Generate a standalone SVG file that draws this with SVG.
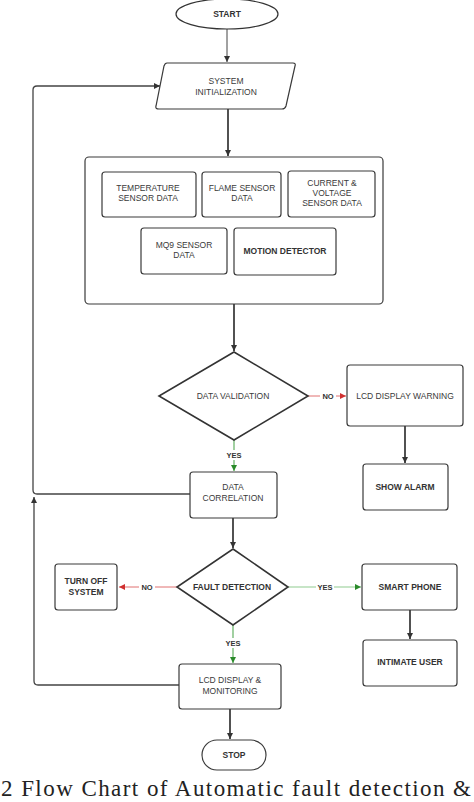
<svg xmlns="http://www.w3.org/2000/svg" width="474" height="802" viewBox="0 0 474 802">
<style>
.n{fill:#fff;stroke:#3a3a3a;stroke-width:1.2}
.d{fill:#fff;stroke:#333;stroke-width:1.6}
.t{font-family:"Liberation Sans",Arial,sans-serif;font-size:8.5px;fill:#3a3a3a;text-anchor:middle;dominant-baseline:central}
.b{font-weight:bold;fill:#333}
.c{fill:none;stroke:#444;stroke-width:1.3}
.k{stroke-width:1.7;stroke:#333}
.r{fill:none;stroke:#e07070;stroke-width:1}
.g{fill:none;stroke:#55aa55;stroke-width:1.1}
.lb{fill:#fff;stroke:none}
.cap{font-family:"Liberation Serif","Times New Roman",serif;font-size:23px;fill:#222}
</style>
<defs>
<marker id="a" markerWidth="6" markerHeight="6" refX="6" refY="3" orient="auto" markerUnits="userSpaceOnUse"><path d="M0,0 L6,3 L0,6 z" fill="#333"/></marker>
<marker id="ar" markerWidth="6" markerHeight="6" refX="6" refY="3" orient="auto" markerUnits="userSpaceOnUse"><path d="M0,0 L6,3 L0,6 z" fill="#d03030"/></marker>
<marker id="ag" markerWidth="6" markerHeight="6" refX="6" refY="3" orient="auto" markerUnits="userSpaceOnUse"><path d="M0,0 L6,3 L0,6 z" fill="#2a8a2a"/></marker>
</defs>
<rect width="474" height="802" fill="#fff"/>

<g id="connectors">
<path class="c" d="M227,29 V62" marker-end="url(#a)" style="stroke-width:1"/>
<path class="c k" d="M228,109 V156" marker-end="url(#a)"/>
<path class="c k" d="M234,304 V351" marker-end="url(#a)"/>
<path class="r" d="M308,396 H346" marker-end="url(#ar)"/>
<path class="c k" d="M405,426 V463" marker-end="url(#a)"/>
<path class="g" d="M234,440 V471" marker-end="url(#ag)"/>
<path class="c k" d="M233,518 V548" marker-end="url(#a)"/>
<path class="r" d="M177,587 H119" marker-end="url(#ar)"/>
<path class="g" d="M288,587 H361" marker-end="url(#ag)" style="stroke:#8fcc8f"/>
<path class="c k" d="M410,610 V639" marker-end="url(#a)"/>
<path class="g" d="M233,625 V663" marker-end="url(#ag)"/>
<path class="c k" d="M230,709 V739" marker-end="url(#a)"/>
<path class="c" d="M190,494 H37 Q33,494 33,490 V90 Q33,86 37,86 H160" marker-end="url(#a)"/>
<path class="c" d="M179,685 H38 Q34,685 34,681 V497" marker-end="url(#a)"/>
<rect class="lb" x="320" y="391" width="16" height="10"/>
<text class="t b" x="328" y="396" style="font-size:7.5px">NO</text>
<rect class="lb" x="225" y="450" width="18" height="10"/>
<text class="t b" x="234" y="455" style="font-size:7.5px">YES</text>
<rect class="lb" x="139" y="582" width="16" height="10"/>
<text class="t b" x="147" y="587" style="font-size:7.5px">NO</text>
<rect class="lb" x="316" y="582" width="18" height="10"/>
<text class="t b" x="325" y="587" style="font-size:7.5px">YES</text>
<rect class="lb" x="224" y="638" width="18" height="10"/>
<text class="t b" x="233" y="643" style="font-size:7.5px">YES</text>
</g>

<g id="start">
<ellipse class="d" cx="227" cy="14" rx="51" ry="15" style="stroke-width:1.2"/>
<text class="t b" x="227" y="14">START</text>
</g>
<g id="init">
<path class="n" d="M167,63 H293 Q296,63 295,66 L286,106 Q285,109 282,109 H159 Q155,109 156,106 L164,66 Q165,63 167,63 z"/>
<text class="t" x="226" y="81">SYSTEM</text>
<text class="t" x="226" y="92">INITIALIZATION</text>
</g>
<g id="sensors">
<rect class="n" x="85" y="157" width="298" height="147" rx="4"/>
</g>
<g id="temp">
<rect class="n" x="102" y="172" width="94" height="45" rx="3"/>
<text class="t" x="148" y="188">TEMPERATURE</text>
<text class="t" x="148" y="198">SENSOR DATA</text>
</g>
<g id="flame">
<rect class="n" x="202" y="172" width="79" height="45" rx="3"/>
<text class="t" x="242" y="188">FLAME SENSOR</text>
<text class="t" x="242" y="198">DATA</text>
</g>
<g id="current">
<rect class="n" x="288" y="171" width="87" height="46" rx="3"/>
<text class="t" x="332" y="183">CURRENT &amp;</text>
<text class="t" x="332" y="193">VOLTAGE</text>
<text class="t" x="332" y="203">SENSOR DATA</text>
</g>
<g id="mq9">
<rect class="n" x="141" y="228" width="86" height="46" rx="3"/>
<text class="t" x="184" y="245">MQ9 SENSOR</text>
<text class="t" x="184" y="255">DATA</text>
</g>
<g id="motion">
<rect class="n" x="234" y="228" width="102" height="47" rx="3"/>
<text class="t b" x="285" y="251">MOTION DETECTOR</text>
</g>
<g id="validation">
<path class="d" d="M234,352 L308,396 L234,440 L159,396 z"/>
<text class="t" x="233" y="396">DATA VALIDATION</text>
</g>
<g id="lcdwarn">
<rect class="n" x="347" y="365" width="116" height="61" rx="3"/>
<text class="t" x="405" y="396">LCD DISPLAY WARNING</text>
</g>
<g id="alarm">
<rect class="n" x="363" y="464" width="85" height="46" rx="3"/>
<text class="t b" x="405" y="487">SHOW ALARM</text>
</g>
<g id="correlation">
<rect class="n" x="190" y="472" width="87" height="46" rx="3"/>
<text class="t" x="233" y="487">DATA</text>
<text class="t" x="233" y="498">CORRELATION</text>
</g>
<g id="fault">
<path class="d" d="M233,549 L288,587 L233,625 L177,587 z"/>
<text class="t b" x="232" y="587">FAULT DETECTION</text>
</g>
<g id="turnoff">
<rect class="n" x="55" y="564" width="62" height="46" rx="3"/>
<text class="t b" x="86" y="581">TURN OFF</text>
<text class="t b" x="86" y="592">SYSTEM</text>
</g>
<g id="phone">
<rect class="n" x="362" y="564" width="95" height="46" rx="3"/>
<text class="t b" x="410" y="587">SMART PHONE</text>
</g>
<g id="intimate">
<rect class="n" x="363" y="640" width="94" height="46" rx="3"/>
<text class="t b" x="410" y="662">INTIMATE USER</text>
</g>
<g id="lcdmon">
<rect class="n" x="179" y="664" width="102" height="45" rx="3"/>
<text class="t" x="230" y="680">LCD DISPLAY &amp;</text>
<text class="t" x="230" y="691">MONITORING</text>
</g>
<g id="stop">
<rect class="n" x="202" y="740" width="64" height="30" rx="15"/>
<text class="t b" x="234" y="755">STOP</text>
</g>
<text class="cap" x="1" y="796" textLength="470" lengthAdjust="spacing">2 Flow Chart of Automatic fault detection &amp;</text>
</svg>
